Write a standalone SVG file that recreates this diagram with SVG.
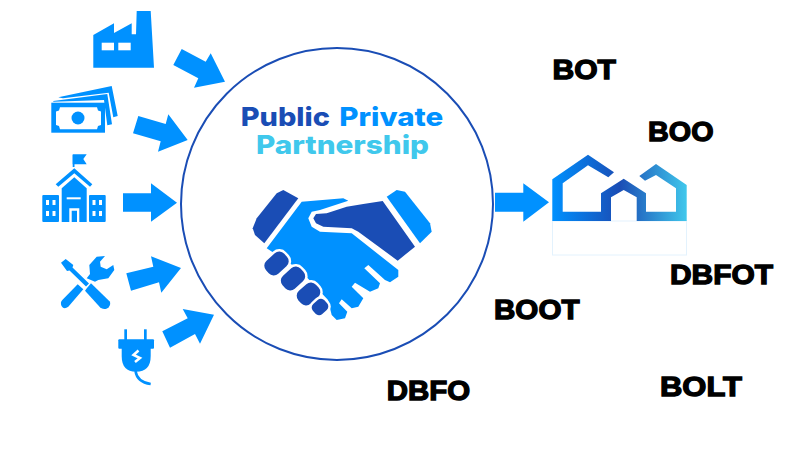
<svg xmlns="http://www.w3.org/2000/svg" width="807" height="451" viewBox="0 0 807 451">
<defs>
<linearGradient id="hg" gradientUnits="userSpaceOnUse" x1="552" y1="0" x2="687" y2="0"><stop offset="0" stop-color="#0091ff"/><stop offset="0.5" stop-color="#1a4db5"/><stop offset="1" stop-color="#40c8ec"/></linearGradient>
</defs>
<style>
.b{fill:#0091ff}
.d{fill:#1a4db5}
.w{fill:#fff}
.lab{font-family:"Liberation Sans",Arial,sans-serif;font-weight:700;font-size:27.500px;fill:#000;stroke:#000;stroke-width:1.300}
.tt{font-family:Inter,"Liberation Sans",sans-serif;font-weight:800;font-size:26px}
</style>
<rect width="807" height="451" fill="#fff"/>
<g id="connectors" class="b">
<polygon points="181.7,49 205.7,61.7 210.7,53.3 225,81.7 194,87.7 198.3,78.3 173.3,65"/>
<polygon points="138.3,116 165.7,124 168.3,114.3 187.7,140 158,151.7 160.7,141.3 133,133.3"/>
<polygon points="123,193.3 151,193.3 151,183.3 177,202.7 151,221.7 151,211.7 123,211.7"/>
<polygon points="126.3,273.3 153.3,266.7 151,256.3 181,268 161.3,292.7 159,282.3 131,290.7"/>
<polygon points="162.3,331.3 187.7,318.3 182.7,309 214,314.7 200,343.7 195,334 170,347.7"/>
<polygon points="495,192.7 523.3,192.7 523.3,183.3 549,202.3 523.3,221.7 523.3,211.7 495,211.7"/>
</g>
<g id="factory">
<polygon class="b" points="93.3,35 114,23.3 114,33 131.7,23.3 131.7,34.3 136,34.3 136.7,11 150.7,11 154,67.7 93.3,67.7"/>
<rect class="w" x="101.7" y="42.7" width="12.3" height="7.6"/>
<rect class="w" x="118.3" y="42.7" width="12.4" height="7.6"/>
</g>
<g id="money">
<polygon class="b" points="58.300,97.300 111.700,86 117.700,116 113.300,117.300 108.700,92.700 63,98.300"/>
<polygon class="b" points="53.300,101 107.300,94 112,124.300 107.300,125.300 104,100 53.300,101.700"/>
<rect class="b" x="51.300" y="102.700" width="53.700" height="30"/>
<polygon class="w" points="60,107.300 97,107.300 98,110.500 101,111.500 101,125 98,126 97,129.300 60,129.300 59,126 56,125 56,111.500 59,110.500"/>
<circle class="b" cx="78" cy="118" r="6.500"/>
</g>
<g id="school" class="b">
<rect x="72.700" y="155" width="1.800" height="12"/>
<polygon points="72.700,154.300 86.700,154.300 83.300,159 86.700,164.300 72.700,164.300"/>
<polygon points="55.700,184.300 74.300,168.300 92.300,184.300 90,186.700 74.300,173.300 58.300,186.700"/>
<polygon points="61.700,188.300 74.300,177.300 86.700,188.300 86.700,222 61.700,222"/>
<rect x="42.300" y="195" width="16.700" height="27" rx="1"/>
<rect x="89" y="195" width="16.700" height="27" rx="1"/>
<g class="w">
<rect x="46" y="200" width="3" height="5"/><rect x="52.500" y="200" width="3" height="5"/>
<rect x="46" y="211" width="3" height="5"/><rect x="52.500" y="211" width="3" height="5"/>
<rect x="92.500" y="200" width="3" height="5"/><rect x="99" y="200" width="3" height="5"/>
<rect x="92.500" y="211" width="3" height="5"/><rect x="99" y="211" width="3" height="5"/>
<rect x="66.700" y="197.300" width="14" height="2"/>
<path d="M69.300 222V208.300H79.300V222H77V210.700H71.700V222Z"/>
</g>
</g>
<g id="tools" class="b">
<polygon points="61,262.700 65.700,259 73.300,265 72.500,267.500 89,283.500 86,286.500 69.500,270.500 67,271"/>
<path d="M91 283.300L110 301.700Q111 306 107 308.500Q103 310 100 307.300L85 290.700L87 288Z"/>
<path d="M77.700 284.300L83.300 289.300L68.300 306.700Q64 310 61.500 306Q60 302 62.300 300Z"/>
<polygon points="86.700,278.300 90,274 89.300,265 96.700,256.700 105,256 100,261.700 100.700,266.700 106.700,269.300 113.300,265 114.300,270 108.300,278.300 98.300,280 95,281.700"/>
</g>
<g id="plug" class="b">
<rect x="124.300" y="329.300" width="2.700" height="11"/><rect x="144" y="329.300" width="2.700" height="11"/>
<rect x="118.300" y="339.300" width="35.700" height="9.400" rx="1"/>
<path d="M121.700 348H150.700V356Q150.700 371.700 136 371.700Q121.700 371.700 121.700 356Z"/>
<path d="M135.500 371 Q137 382 150.700 384" fill="none" stroke="#0091ff" stroke-width="2.500"/>
<polyline points="138.500,350.500 133.500,355 140,358 135,362" fill="none" stroke="#fff" stroke-width="2.500"/>
</g>
<g id="hub">
<circle cx="337" cy="204" r="156" fill="#fff" stroke="#1a4db5" stroke-width="2"/>
<text class="tt d" x="240.700" y="126" textLength="89.300" lengthAdjust="spacingAndGlyphs">Public</text>
<text class="tt b" x="339.300" y="126" textLength="104" lengthAdjust="spacingAndGlyphs">Private</text>
<text class="tt" x="256" y="153.500" fill="#40c8ec" textLength="173" lengthAdjust="spacingAndGlyphs">Partnership</text>
</g>
<g id="handshake">
<path class="d" d="M283.300 190L298.300 198.300L264.300 243.300L255 235L252.700 228.300L256.700 218.300L276.700 193.300Z"/>
<path class="b" d="M386.700 196.700L396.700 190L405 191.700L430 223.300L431.700 231.700L420 243.300Z"/>
<path class="b" d="M301.700 201.700L343.300 198.300L348.300 200.700L320 210L311.700 211.700L308.300 218.300L311.700 226.700L320 231.700L351.700 233.300L398.300 270L398.300 276.700L390 282.300L385 280L368.300 265L364.300 268.300L380 283.300L378.300 288.300L370 291.700L355 282.700L351.700 286.700L363.300 298.300L358.300 306.700L351.700 308.300L341.700 299.300L339 303.300L347.300 311.700L345 318.300L336.700 320L331.700 315L328 300L300 270L266.700 248.300Z"/>
<path class="d" d="M382.700 201L415 246.700L397.700 260.700L358.300 231.700L351.700 228.300L323.300 226.700L316 223.300L313.300 218.300L316 214L326.700 213.300L346.700 206.700L363.300 204Z"/>
<g class="d" stroke="#fff" stroke-width="2.500">
<rect x="263" y="253.500" width="27" height="20" rx="8" transform="rotate(-42 276.500 263.500)"/>
<rect x="279.500" y="268.500" width="27" height="20" rx="8" transform="rotate(-42 293 278.500)"/>
<rect x="295.500" y="284" width="26" height="20" rx="8" transform="rotate(-42 308.500 294)"/>
<rect x="311" y="299" width="18" height="16" rx="6" transform="rotate(-42 320 307)"/>
</g>
</g>
<g id="house">
<rect x="552.500" y="221" width="134" height="34" fill="#fff" stroke="#e3f2fd"/>
<polygon fill="url(#hg)" points="552.300,179.300 588,154.700 614,172.300 608.300,177.300 588,165.300 562.700,183.300 562.700,211.700 601,211.700 601,193.300 623.700,178.700 646,193.300 646,211.700 676,211.700 676,188.300 656,175 645,180.700 639.300,176 656,164 686.700,185 686.700,221 636.700,221 636.700,197.300 623.700,190 611,197.300 611,221 552.300,221"/>
</g>
<g id="labels">
<text class="lab" x="552.500" y="79" textLength="63.500" lengthAdjust="spacingAndGlyphs">BOT</text>
<text class="lab" x="648" y="141" textLength="65.500" lengthAdjust="spacingAndGlyphs">BOO</text>
<text class="lab" x="670" y="284" textLength="103" lengthAdjust="spacingAndGlyphs">DBFOT</text>
<text class="lab" x="494" y="319" textLength="85.500" lengthAdjust="spacingAndGlyphs">BOOT</text>
<text class="lab" x="386.700" y="400" textLength="83.500" lengthAdjust="spacingAndGlyphs">DBFO</text>
<text class="lab" x="660" y="395.500" textLength="82" lengthAdjust="spacingAndGlyphs">BOLT</text>
</g>
</svg>
